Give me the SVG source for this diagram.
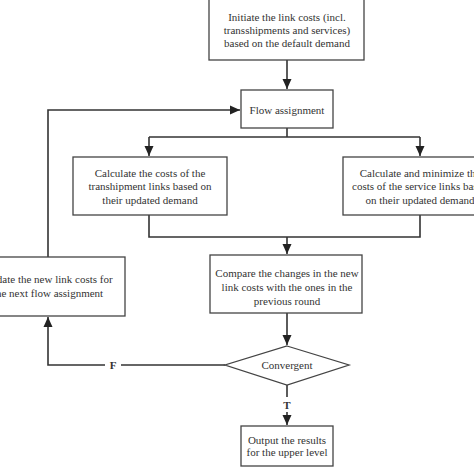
<svg xmlns="http://www.w3.org/2000/svg" width="474" height="474" viewBox="0 0 474 474">
<style>
.box{fill:#fff;stroke:#444;stroke-width:1.3}
.t{font-family:"Liberation Serif","Times New Roman",serif;font-size:11px;fill:#333;text-anchor:middle}
.b{font-weight:bold}
.c{fill:none;stroke:#333;stroke-width:1.6}
</style>
<defs>
<marker id="ah" markerUnits="userSpaceOnUse" markerWidth="10" markerHeight="10" viewBox="0 0 10 10" refX="10" refY="5" orient="auto">
<path d="M0,0.5 L10,5 L0,9.5 Z" fill="#222"/>
</marker>
</defs>
<rect width="474" height="474" fill="#fff"/>
<g id="connectors">
<path class="c" d="M287,60 V89" marker-end="url(#ah)"/>
<path class="c" d="M287,128 V137"/>
<path class="c" d="M149,137 H420"/>
<path class="c" d="M149,137 V156" marker-end="url(#ah)"/>
<path class="c" d="M420,137 V156" marker-end="url(#ah)"/>
<path class="c" d="M149,215 V237 H420 V215"/>
<path class="c" d="M287,237 V254" marker-end="url(#ah)"/>
<path class="c" d="M287,313 V345" marker-end="url(#ah)"/>
<path class="c" d="M225,365 H121"/>
<path class="c" d="M105,365 H48 V317" marker-end="url(#ah)"/>
<path class="c" d="M48,257 V110 H240" marker-end="url(#ah)"/>
<path class="c" d="M287,385 V397"/>
<path class="c" d="M287,412 V425" marker-end="url(#ah)"/>
<text class="t b" x="113" y="369">F</text>
<text class="t b" x="287" y="409">T</text>
</g>
<g id="init">
<rect class="box" x="209" y="-1" width="155" height="61"/>
<text class="t" x="287" y="21">Initiate the link costs (incl.</text>
<text class="t" x="287" y="34">transshipments and services)</text>
<text class="t" x="287" y="47">based on the default demand</text>
</g>
<g id="flow">
<rect class="box" x="241" y="90" width="92" height="38"/>
<text class="t" x="287" y="114">Flow assignment</text>
</g>
<g id="tranship">
<rect class="box" x="73" y="157" width="154" height="58"/>
<text class="t" x="150" y="177">Calculate the costs of the</text>
<text class="t" x="150" y="190">transhipment links based on</text>
<text class="t" x="150" y="204">their updated demand</text>
</g>
<g id="service">
<rect class="box" x="343" y="157" width="154" height="58"/>
<text class="t" x="420" y="177">Calculate and minimize the</text>
<text class="t" x="420" y="190">costs of the service links based</text>
<text class="t" x="420" y="204">on their updated demand</text>
</g>
<g id="compare">
<rect class="box" x="210" y="255" width="152" height="58"/>
<text class="t" x="287" y="277">Compare the changes in the new</text>
<text class="t" x="287" y="291">link costs with the ones in the</text>
<text class="t" x="287" y="305">previous round</text>
</g>
<g id="convergent">
<polygon class="box" points="287,346 349,365 287,385 225,365"/>
<text class="t" x="287" y="369">Convergent</text>
</g>
<g id="update">
<rect class="box" x="-30" y="257" width="155" height="59"/>
<text class="t" x="48" y="283">Update the new link costs for</text>
<text class="t" x="48" y="297">the next flow assignment</text>
</g>
<g id="output">
<rect class="box" x="241" y="426" width="92" height="40"/>
<text class="t" x="287" y="444">Output the results</text>
<text class="t" x="287" y="456">for the upper level</text>
</g>
</svg>
